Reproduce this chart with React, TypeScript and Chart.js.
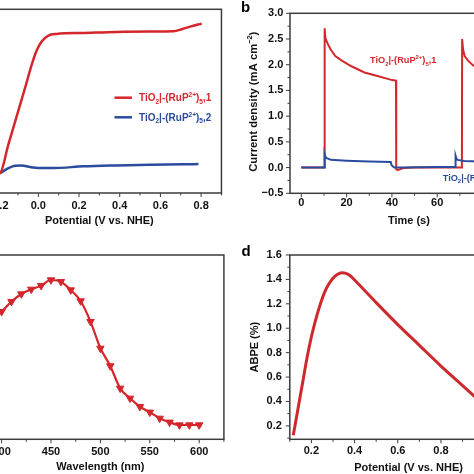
import React, { useEffect, useRef } from 'react';
import { Chart, registerables } from 'chart.js';
Chart.register(...registerables);

const FONT = '"Liberation Sans", Arial, Helvetica, sans-serif';
const RED = '#d4262b';
const BLUE = '#2a4b9e';
const AXIS = '#3c3c3c';
const TXT = '#111111';

// ---- Panel a: current density vs potential ----
const aPotential1 = [-0.26, -0.1885, -0.1475, -0.1066, -0.0656, -0.0328, -0.0082, 0.0164, 0.0492, 0.0902, 0.2213, 0.3852, 0.5492, 0.6639, 0.7049, 0.7459, 0.8033];
const aCurrent1 = [0.11, 0.148, 0.641, 1.133, 1.626, 2.032, 2.281, 2.438, 2.542, 2.571, 2.588, 2.606, 2.612, 2.617, 2.652, 2.699, 2.751];
const aPotential2 = [-0.26, -0.1885, -0.156, -0.115, -0.082, -0.041, 0.0, 0.074, 0.221, 0.385, 0.549, 0.713, 0.787];
const aCurrent2 = [0.11, 0.148, 0.217, 0.275, 0.281, 0.252, 0.235, 0.235, 0.264, 0.281, 0.293, 0.299, 0.304];

// ---- Panel b: chopped light current vs time ----
const bTime1 = [0, 10.2, 10.3, 10.6, 11.4, 12.9, 15, 17.9, 22.1, 27.9, 33.6, 39.3, 41.8, 41.9, 42.5, 45, 50, 60, 70.9, 71.0, 71.4, 72.1, 73.6, 76, 80];
const bCurrent1 = [0, 0, 2.71, 2.52, 2.43, 2.30, 2.17, 2.08, 1.97, 1.85, 1.78, 1.71, 1.69, -0.03, -0.05, -0.01, 0.0, 0.0, 0.0, 2.50, 2.30, 2.17, 2.08, 1.98, 1.9];
const bTime2 = [0, 10.1, 10.3, 10.6, 11, 13, 20, 30, 39.5, 39.8, 40.5, 41, 45, 60, 67.9, 68.1, 68.5, 69, 72, 75, 80];
const bCurrent2 = [0, 0, 0.26, 0.21, 0.19, 0.15, 0.135, 0.12, 0.11, 0.05, 0.02, 0.0, 0.0, 0.01, 0.01, 0.23, 0.17, 0.15, 0.13, 0.125, 0.12];

// ---- Panel c: spectrum ----
const cWavelength = [400, 410, 420, 430, 440, 450, 460, 470, 480, 490, 500, 510, 520, 530, 540, 550, 560, 570, 580, 590, 600];
const cValue = [13.55, 14.69, 15.56, 16.09, 16.51, 17.15, 16.96, 16.01, 14.76, 12.41, 9.37, 7.36, 4.81, 3.67, 2.72, 2.08, 1.39, 0.94, 0.63, 0.63, 0.63];

// ---- Panel d: ABPE vs potential ----
const dPotential = [0.116, 0.14, 0.16, 0.18, 0.2, 0.22, 0.24, 0.26, 0.28, 0.3, 0.32, 0.34, 0.36, 0.38, 0.4, 0.5, 0.6, 0.7, 0.8, 0.9, 1.0, 1.1, 1.2];
const dABPE = [0.123, 0.36, 0.56, 0.76, 0.93, 1.07, 1.19, 1.29, 1.36, 1.41, 1.44, 1.455, 1.45, 1.43, 1.395, 1.21, 1.03, 0.86, 0.69, 0.53, 0.37, 0.2, 0.05];

const zip = (xs: number[], ys: number[]) => xs.map((x, i) => ({ x, y: ys[i] }));

type Run = { t: string; k?: 'sub' | 'sup' };
const tio2 = (n: string): Run[] => [
  { t: 'TiO' }, { t: '2', k: 'sub' }, { t: '|-(RuP' }, { t: '2+', k: 'sup' }, { t: ')' }, { t: '5', k: 'sub' }, { t: ',' + n },
];

type TextItem = { runs: Run[]; x: number; y: number; size: number; color: string; weight?: string; align?: 'left' | 'center'; rotate?: boolean };
type LineItem = { x1: number; x2: number; y: number; color: string; width: number };

function drawRich(ctx: CanvasRenderingContext2D, it: TextItem) {
  const w = it.weight || 'bold';
  const small = it.size * 0.65;
  const widths = it.runs.map((r) => {
    ctx.font = `${w} ${r.k ? small : it.size}px ${FONT}`;
    return ctx.measureText(r.t).width;
  });
  const total = widths.reduce((a, b) => a + b, 0);
  ctx.save();
  ctx.translate(it.x, it.y);
  if (it.rotate) ctx.rotate(-Math.PI / 2);
  ctx.fillStyle = it.color;
  ctx.textBaseline = 'alphabetic';
  ctx.textAlign = 'left';
  let cx = it.align === 'center' ? -total / 2 : 0;
  const base = it.size * 0.36;
  it.runs.forEach((r, i) => {
    ctx.font = `${w} ${r.k ? small : it.size}px ${FONT}`;
    let dy = base;
    if (r.k === 'sub') dy += it.size * 0.25;
    if (r.k === 'sup') dy -= it.size * 0.42;
    ctx.fillText(r.t, cx, dy);
    cx += widths[i];
  });
  ctx.restore();
}

const framePlugin = {
  id: 'frame',
  afterDraw(chart: any, _a: any, opts: any) {
    const { ctx, chartArea: ca } = chart;
    ctx.save();
    ctx.strokeStyle = AXIS;
    ctx.lineWidth = 1.5;
    ctx.strokeRect(ca.left, ca.top, ca.right - ca.left, ca.bottom - ca.top);
    ctx.lineWidth = 1;
    for (const id of ['x', 'y']) {
      const s = chart.scales[id];
      if (!s || !s.options.display) continue;
      const step = s.options.ticks.stepSize;
      s.ticks.forEach((t: any) => {
        const v = t.value;
        if (Math.abs(v / step - Math.round(v / step)) > 1e-6) return;
        const major = t.label !== '' && t.label != null;
        const len = major ? 4 : 2.5;
        const p = s.getPixelForValue(v);
        ctx.beginPath();
        if (id === 'x') {
          ctx.moveTo(p, ca.bottom);
          ctx.lineTo(p, ca.bottom + len);
        } else {
          ctx.moveTo(ca.left, p);
          ctx.lineTo(ca.left - len, p);
        }
        ctx.stroke();
      });
    }
    const ox = opts.ox || 0;
    const oy = opts.oy || 0;
    (opts.lines || []).forEach((l: LineItem) => {
      ctx.strokeStyle = l.color;
      ctx.lineWidth = l.width;
      ctx.beginPath();
      ctx.moveTo(l.x1 - ox, l.y - oy);
      ctx.lineTo(l.x2 - ox, l.y - oy);
      ctx.stroke();
    });
    (opts.texts || []).forEach((it: TextItem) => drawRich(ctx, { ...it, x: it.x - ox, y: it.y - oy }));
    ctx.restore();
  },
};

const tickFont = { family: FONT, size: 11, weight: 'bold' as const };
const titleFont = { family: FONT, size: 11, weight: 'bold' as const };

const fmt = (v: number, d: number) => (v < 0 ? '−' : '') + Math.abs(v).toFixed(d);
const labeler = (every: number, d: number) => (v: any) => {
  const n = Number(v);
  return Math.abs(n / every - Math.round(n / every)) < 1e-6 ? fmt(n, d) : '';
};

type Box = { L: number; T: number; W: number; H: number };

function xAxis(min: number, max: number, step: number, every: number, d: number, title: string, height: number, tickPad: number, titlePad: number) {
  return {
    type: 'linear' as const,
    min,
    max,
    grid: { display: false, drawTicks: false },
    border: { display: false },
    ticks: { stepSize: step, includeBounds: false, autoSkip: false, maxRotation: 0, padding: tickPad, font: tickFont, color: TXT, callback: labeler(every, d) },
    title: { display: true, text: title, font: titleFont, color: TXT, padding: { top: 0, bottom: titlePad } },
    afterFit: (s: any) => {
      s.height = height;
    },
  };
}

function yAxis(min: number, max: number, step: number, every: number, d: number, width: number, tickPad: number, title?: string, titlePad?: number) {
  return {
    type: 'linear' as const,
    min,
    max,
    grid: { display: false, drawTicks: false },
    border: { display: false },
    ticks: { stepSize: step, includeBounds: false, autoSkip: false, padding: tickPad, font: tickFont, color: TXT, callback: labeler(every, d) },
    title: { display: !!title, text: title || '', font: titleFont, color: TXT, padding: { top: titlePad || 0, bottom: 0 } },
    afterFit: (s: any) => {
      s.width = width;
    },
  };
}

const hiddenY = (min: number, max: number) => ({ type: 'linear' as const, display: false, min, max });

const lineDs = (data: any[], color: string, width: number, smooth: boolean) => ({
  data,
  showLine: true,
  borderColor: color,
  backgroundColor: color,
  borderWidth: width,
  pointRadius: 0,
  tension: smooth ? 0.35 : 0,
  cubicInterpolationMode: smooth ? ('monotone' as const) : ('default' as const),
});

const boxA: Box = { L: -30, T: 0, W: 260, H: 232 };
const boxB: Box = { L: 240, T: 0, W: 300, H: 232 };
const boxC: Box = { L: -30, T: 236, W: 260, H: 244 };
const boxD: Box = { L: 240, T: 236, W: 300, H: 244 };

function baseOptions(box: Box, padding: any, scales: any, frame: any) {
  return {
    responsive: false,
    maintainAspectRatio: false,
    animation: false,
    events: [],
    layout: { padding, autoPadding: false },
    plugins: { legend: { display: false }, tooltip: { enabled: false }, frame: { ox: box.L, oy: box.T, ...frame } },
    scales,
  };
}

export default function App() {
  const refA = useRef<HTMLCanvasElement>(null);
  const refB = useRef<HTMLCanvasElement>(null);
  const refC = useRef<HTMLCanvasElement>(null);
  const refD = useRef<HTMLCanvasElement>(null);

  useEffect(() => {
    const charts: Chart[] = [];

    charts.push(
      new Chart(refA.current!, {
        type: 'scatter',
        data: {
          datasets: [lineDs(zip(aPotential1, aCurrent1), RED, 2.5, true), lineDs(zip(aPotential2, aCurrent2), BLUE, 2.5, true)] as any,
        },
        options: baseOptions(
          boxA,
          { left: 7.3, right: 8.55, top: 9.3, bottom: 0 },
          { x: xAxis(-0.3, 0.9, 0.1, 0.2, 1, 'Potential (V vs. NHE)', 39, 6, 4.7), y: hiddenY(-0.2, 3.0) },
          {
            lines: [
              { x1: 114.5, x2: 132, y: 97.7, color: RED, width: 2.5 },
              { x1: 114.5, x2: 132, y: 117.3, color: BLUE, width: 2.5 },
            ],
            texts: [
              { runs: tio2('1'), x: 139, y: 97.7, size: 10, color: RED },
              { runs: tio2('2'), x: 139, y: 117.3, size: 10, color: BLUE },
            ],
          }
        ) as any,
        plugins: [framePlugin as any],
      })
    );

    charts.push(
      new Chart(refB.current!, {
        type: 'scatter',
        data: {
          datasets: [lineDs(zip(bTime2, bCurrent2), BLUE, 2, false), lineDs(zip(bTime1, bCurrent1), RED, 2, false)] as any,
        },
        options: baseOptions(
          boxB,
          { left: 0, right: 3.8, top: 10, bottom: 0 },
          { x: xAxis(-5, 100, 10, 20, 0, 'Time (s)', 38.7, 3, 4.7), y: yAxis(-0.5, 3.0, 0.25, 0.5, 1, 50, 6.7) },
          {
            texts: [
              { runs: [{ t: 'b' }], x: 241, y: 6.5, size: 15, color: '#000' },
              { runs: [{ t: 'Current density (mA cm' }, { t: '−2', k: 'sup' }, { t: ')' }], x: 253, y: 101.7, size: 11.3, color: TXT, align: 'center', rotate: true },
              { runs: tio2('1'), x: 370, y: 60, size: 9.2, color: RED },
              { runs: tio2('2'), x: 442.7, y: 177.3, size: 9.2, color: BLUE },
            ],
          }
        ) as any,
        plugins: [framePlugin as any],
      })
    );

    charts.push(
      new Chart(refC.current!, {
        type: 'scatter',
        data: {
          datasets: [
            {
              data: zip(cWavelength, cValue),
              showLine: true,
              borderColor: RED,
              backgroundColor: RED,
              borderWidth: 2.2,
              tension: 0.35,
              cubicInterpolationMode: 'monotone',
              pointStyle: 'triangle',
              rotation: 180,
              pointRadius: 4.3,
              pointBorderWidth: 1,
            },
          ] as any,
        },
        options: baseOptions(
          boxC,
          { left: 6.9, right: 6.1, top: 19, bottom: 0 },
          { x: xAxis(375, 625, 25, 50, 0, 'Wavelength (nm)', 40.7, 6, 6.1), y: hiddenY(-1, 20) },
          {}
        ) as any,
        plugins: [framePlugin as any],
      })
    );

    charts.push(
      new Chart(refD.current!, {
        type: 'scatter',
        data: {
          datasets: [lineDs(zip(dPotential, dABPE), '#cc2a2c', 3, true)] as any,
        },
        options: baseOptions(
          boxD,
          { left: 0, right: 2.7, top: 19, bottom: 0 },
          {
            x: xAxis(0.1, 1.2, 0.1, 0.2, 1, 'Potential (V vs. NHE)', 40.7, 5, 5.1),
            y: yAxis(0.09, 1.6, 0.1, 0.2, 1, 49.8, 8, 'ABPE (%)', 8.4),
          },
          {
            texts: [{ runs: [{ t: 'd' }], x: 241.5, y: 251, size: 15, color: '#000' }],
          }
        ) as any,
        plugins: [framePlugin as any],
      })
    );

    return () => charts.forEach((c) => c.destroy());
  }, []);

  const cv = (b: Box, ref: any) => (
    <canvas ref={ref} width={b.W} height={b.H} style={{ position: 'absolute', left: b.L, top: b.T, width: b.W, height: b.H }} />
  );

  return (
    <div style={{ position: 'fixed', left: 0, top: 0, width: 474, height: 474, overflow: 'hidden', background: '#fff' }}>
      {cv(boxA, refA)}
      {cv(boxB, refB)}
      {cv(boxC, refC)}
      {cv(boxD, refD)}
    </div>
  );
}
